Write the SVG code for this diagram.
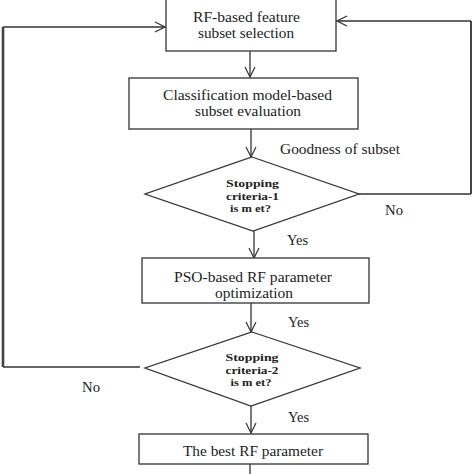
<svg xmlns="http://www.w3.org/2000/svg" width="474" height="474" viewBox="0 0 474 474">
<style>
.box{fill:#fff;stroke:#333;stroke-width:1.3}
.t{font-family:"Liberation Serif",serif;font-size:14.5px;fill:#222;text-anchor:middle}
.d{font-family:"Liberation Serif",serif;font-size:10.5px;font-weight:bold;fill:#222;text-anchor:middle}
.l{font-family:"Liberation Serif",serif;font-size:14px;fill:#222}
.c{fill:none;stroke:#333;stroke-width:1.3}
.head{fill:none;stroke:#333;stroke-width:1.2}
</style>
<defs>
<marker id="arr" viewBox="0 0 12 12" refX="11" refY="6" markerWidth="12" markerHeight="12" markerUnits="userSpaceOnUse" orient="auto">
<path d="M1,1 L11,6 L1,11" class="head"/>
</marker>
</defs>
<rect width="474" height="474" fill="#fff"/>
<g id="connectors">
<path class="c" d="M250,51 V77" marker-end="url(#arr)"/>
<path class="c" d="M251,129 V157" marker-end="url(#arr)"/>
<path class="c" d="M254,231 V258" marker-end="url(#arr)"/>
<path class="c" d="M251,303 V332" marker-end="url(#arr)"/>
<path class="c" d="M251,406 V433" marker-end="url(#arr)"/>
<path class="c" d="M250,464 V474"/>
<path class="c" d="M359,194 H471"/>
<path fill="none" stroke="#444" stroke-width="2" d="M471,194 V21"/>
<path class="c" d="M471,21 H337" marker-end="url(#arr)"/>
<path class="c" d="M140,367 H3"/>
<path fill="none" stroke="#444" stroke-width="2.6" d="M3,367 V27"/>
<path class="c" d="M3,27 H165" marker-end="url(#arr)"/>
<text class="l" x="280" y="154" textLength="120" lengthAdjust="spacingAndGlyphs">Goodness of subset</text>
<text class="l" x="385" y="215" textLength="18" lengthAdjust="spacingAndGlyphs">No</text>
<text class="l" x="287" y="245" textLength="21" lengthAdjust="spacingAndGlyphs">Yes</text>
<text class="l" x="288" y="327" textLength="21" lengthAdjust="spacingAndGlyphs">Yes</text>
<text class="l" x="82" y="392" textLength="18" lengthAdjust="spacingAndGlyphs">No</text>
<text class="l" x="288" y="422" textLength="21" lengthAdjust="spacingAndGlyphs">Yes</text>
</g>
<g id="n1">
<rect class="box" x="166" y="-5" width="170" height="56"/>
<text class="t" x="246.5" y="22" textLength="107" lengthAdjust="spacingAndGlyphs">RF-based feature</text>
<text class="t" x="246" y="38" textLength="96" lengthAdjust="spacingAndGlyphs">subset selection</text>
</g>
<g id="n2">
<rect class="box" x="129" y="78" width="229" height="51"/>
<text class="t" x="247.5" y="100" textLength="169" lengthAdjust="spacingAndGlyphs">Classification model-based</text>
<text class="t" x="248" y="116" textLength="106" lengthAdjust="spacingAndGlyphs">subset evaluation</text>
</g>
<g id="n3">
<polygon class="box" points="252,157 359,194 253,231 145,194"/>
<text class="d" x="252.5" y="187" textLength="53" lengthAdjust="spacingAndGlyphs">Stopping</text>
<text class="d" x="252.5" y="199.5" textLength="53" lengthAdjust="spacingAndGlyphs">criteria-1</text>
<text class="d" x="250.5" y="212" textLength="41" lengthAdjust="spacingAndGlyphs">is m et?</text>
</g>
<g id="n4">
<rect class="box" x="142" y="258" width="227" height="45"/>
<text class="t" x="253" y="282" textLength="158" lengthAdjust="spacingAndGlyphs">PSO-based RF parameter</text>
<text class="t" x="254" y="298" textLength="78" lengthAdjust="spacingAndGlyphs">optimization</text>
</g>
<g id="n5">
<polygon class="box" points="252,332 360,368 251,406 145,368"/>
<text class="d" x="252" y="361" textLength="53" lengthAdjust="spacingAndGlyphs">Stopping</text>
<text class="d" x="252" y="373.5" textLength="53" lengthAdjust="spacingAndGlyphs">criteria-2</text>
<text class="d" x="251" y="386" textLength="41" lengthAdjust="spacingAndGlyphs">is m et?</text>
</g>
<g id="n6">
<rect class="box" x="139" y="434" width="229" height="30"/>
<text class="t" x="253" y="456" textLength="140" lengthAdjust="spacingAndGlyphs">The best RF parameter</text>
</g>
</svg>
